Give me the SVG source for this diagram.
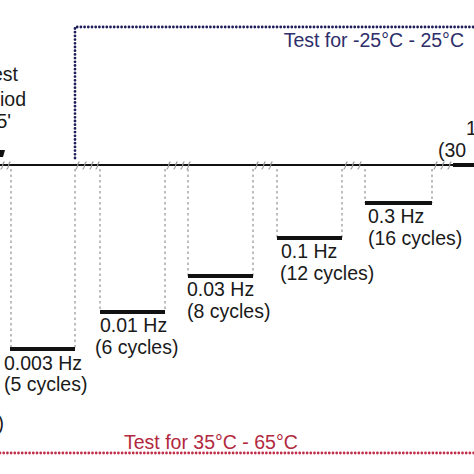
<svg xmlns="http://www.w3.org/2000/svg" width="474" height="474" viewBox="0 0 474 474">
<defs>
<style>
text{font-family:"Liberation Sans",Arial,sans-serif;font-size:19.5px;fill:#1a1a1a}
.blue{fill:#2e2e6a}
.red{fill:#b2283e}
.bar{stroke:#111;stroke-width:4;fill:none}
.vd{stroke:#a8a8a8;stroke-width:1.5;stroke-dasharray:2.5 3;fill:none}
.brk{stroke:#9a9a9a;stroke-width:1.2;fill:none;stroke-linecap:round}
.bdot{stroke:#1e1e5a;stroke-width:2.8;stroke-dasharray:0 3.7;stroke-linecap:round;fill:none}
.rdot{stroke:#c0304a;stroke-width:2.8;stroke-dasharray:0 3.7;stroke-linecap:round;fill:none}
</style>
</defs>
<rect width="474" height="474" fill="#fff"/>
<g id="connectors">
<line x1="0" y1="165" x2="474" y2="165" stroke="#111" stroke-width="2"/>
<line x1="453" y1="165" x2="474" y2="165" stroke="#111" stroke-width="4"/>
<path class="vd" d="M11,169V349 M75,169V349 M100,169V312 M165,169V312 M188,169V276 M253,169V276 M277,169V238 M342,169V238 M365,169V203 M432,169V203"/>
<path class="brk" d="M1,169c2,-1 1,-5 3,-7 M7,169c2,-1 1,-5 3,-7 M76,169c2,-1 1,-5 3,-7 M83,169c2,-1 1,-5 3,-7 M90,169c2,-1 1,-5 3,-7 M96,169c2,-1 1,-5 3,-7 M167,169c2,-1 1,-5 3,-7 M174,169c2,-1 1,-5 3,-7 M181,169c2,-1 1,-5 3,-7 M187,169c2,-1 1,-5 3,-7 M255,169c2,-1 1,-5 3,-7 M262,169c2,-1 1,-5 3,-7 M269,169c2,-1 1,-5 3,-7 M344,169c2,-1 1,-5 3,-7 M351,169c2,-1 1,-5 3,-7 M358,169c2,-1 1,-5 3,-7 M434,169c2,-1 1,-5 3,-7 M441,169c2,-1 1,-5 3,-7 M448,169c2,-1 1,-5 3,-7"/>
<path class="bdot" d="M75,158V27H474"/>
<path class="rdot" d="M0,453H474"/>
</g>
<g id="left-label">
<text x="18" y="81" text-anchor="end">est</text>
<text x="26" y="106" text-anchor="end">iod</text>
<text x="11" y="128" text-anchor="end">5'</text>
<polygon points="0,150 5,150 3,157 0,157" fill="#111"/>
<text x="4" y="430" text-anchor="end">)</text>
</g>
<g id="f0003">
<line class="bar" x1="10" y1="349" x2="75" y2="349"/>
<text x="4" y="370">0.003 Hz</text>
<text x="4" y="391">(5 cycles)</text>
</g>
<g id="f001">
<line class="bar" x1="100" y1="312" x2="165" y2="312"/>
<text x="100" y="332">0.01 Hz</text>
<text x="95" y="354">(6 cycles)</text>
</g>
<g id="f003">
<line class="bar" x1="188" y1="276" x2="253" y2="276"/>
<text x="187" y="296">0.03 Hz</text>
<text x="187" y="318">(8 cycles)</text>
</g>
<g id="f01">
<line class="bar" x1="277" y1="238" x2="342" y2="238"/>
<text x="281" y="258">0.1 Hz</text>
<text x="280" y="280">(12 cycles)</text>
</g>
<g id="f03">
<line class="bar" x1="365" y1="203" x2="432" y2="203"/>
<text x="368" y="223">0.3 Hz</text>
<text x="368" y="245">(16 cycles)</text>
</g>
<g id="right-label">
<text x="466" y="135">1</text>
<text x="438" y="157">(30</text>
</g>
<g id="cold-test">
<text class="blue" x="464" y="47" text-anchor="end">Test for -25°C - 25°C</text>
</g>
<g id="hot-test">
<text class="red" x="124" y="449">Test for 35°C - 65°C</text>
</g>
</svg>
